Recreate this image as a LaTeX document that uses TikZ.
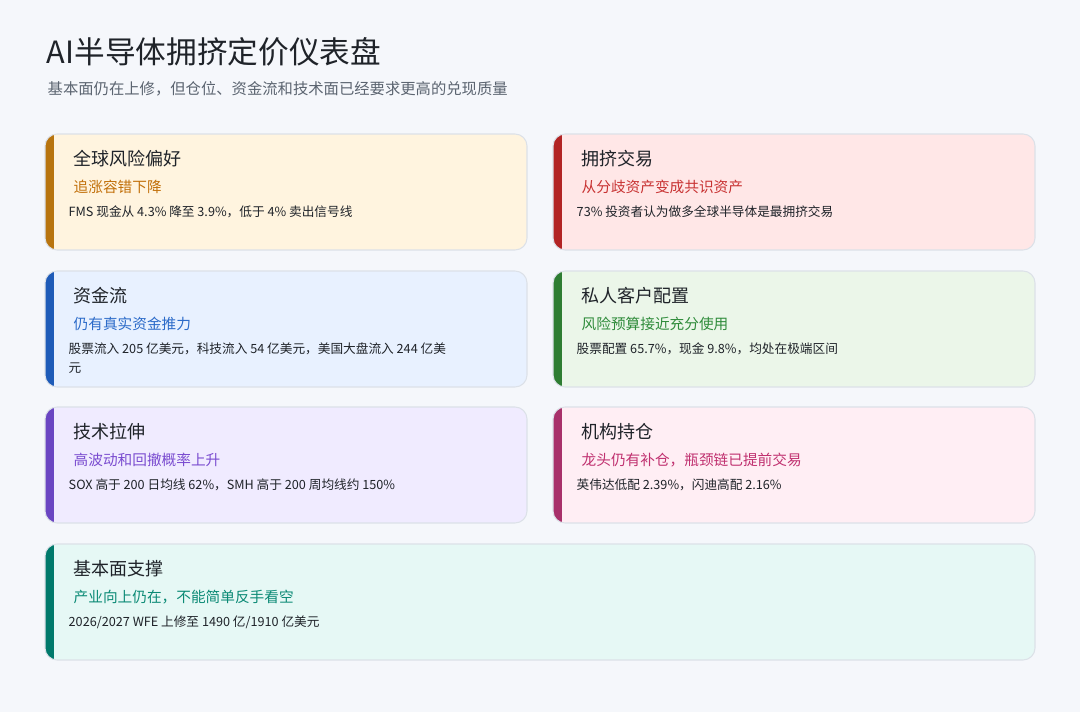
\documentclass[tikz,border=0pt]{standalone}
\usepackage{fontspec}
\setmainfont{Noto Sans CJK SC}
\usetikzlibrary{positioning}
\definecolor{pagebg}{HTML}{F5F7FB}
\definecolor{edge}{HTML}{DCE1E8}
\definecolor{ink}{HTML}{1F2329}
\definecolor{muted}{HTML}{5B6470}
\definecolor{barA}{HTML}{B8740E}\definecolor{fillA}{HTML}{FFF4DF}\definecolor{txtA}{HTML}{C2700A}
\definecolor{barB}{HTML}{B22424}\definecolor{fillB}{HTML}{FFE7E7}\definecolor{txtB}{HTML}{C83232}
\definecolor{barC}{HTML}{1E5BB8}\definecolor{fillC}{HTML}{E8F1FF}\definecolor{txtC}{HTML}{2C6BC9}
\definecolor{barD}{HTML}{2E7D32}\definecolor{fillD}{HTML}{EBF6E9}\definecolor{txtD}{HTML}{2E8B3A}
\definecolor{barE}{HTML}{6A45C2}\definecolor{fillE}{HTML}{F0EBFF}\definecolor{txtE}{HTML}{7A4CD0}
\definecolor{barF}{HTML}{A8306A}\definecolor{fillF}{HTML}{FFEEF4}\definecolor{txtF}{HTML}{C0306F}
\definecolor{barG}{HTML}{00796B}\definecolor{fillG}{HTML}{E6F8F5}\definecolor{txtG}{HTML}{0B8A75}
\tikzset{
  cardtitle/.style={anchor=west,text=ink,font=\fontsize{13.5}{16}\selectfont},
  cardsub/.style={anchor=west,font=\fontsize{11}{13}\selectfont},
  cardbody/.style={anchor=north west,text=ink,align=left,font=\fontsize{9.5}{14}\selectfont}
}
% #1 name, #2 left, #3 top, #4 right, #5 key letter, #6 title, #7 sub, #8 body
\newcommand{\dashcard}[8]{%
  \begin{scope}
    \clip[rounded corners=9] (#2,-#3) rectangle (#4,-#3-116);
    \fill[fill#5] (#2,-#3) rectangle (#4,-#3-116);
    \fill[bar#5] (#2,-#3) rectangle (#2+9,-#3-116);
  \end{scope}
  \draw[edge,line width=0.8pt,rounded corners=9] (#2,-#3) rectangle (#4,-#3-116);
  \node[cardtitle] (#1t) at (#2+24,-#3-25) {#6};
  \node[cardsub,text=txt#5] (#1s) at (#2+24,-#3-53) {#7};
  \node[cardbody] (#1b) at (#2+19,-#3-67) {#8};
}
\begin{document}
\begin{tikzpicture}[x=0.75pt,y=0.75pt]
\fill[pagebg] (0,0) rectangle (1080,-712);
\useasboundingbox (0,0) rectangle (1080,-712);

\node[anchor=west,text=ink,font=\fontsize{23}{27}\selectfont] (title) at (42,-52) {AI半导体拥挤定价仪表盘};
\node[anchor=west,text=muted,font=\fontsize{11.5}{14}\selectfont] (subtitle) at (43,-89) {基本面仍在上修，但仓位、资金流和技术面已经要求更高的兑现质量};

\dashcard{risk}{45}{134}{527}{A}{全球风险偏好}{追涨容错下降}{FMS 现金从 4.3\% 降至 3.9\%，低于 4\% 卖出信号线}
\dashcard{crowd}{553}{134}{1035}{B}{拥挤交易}{从分歧资产变成共识资产}{73\% 投资者认为做多全球半导体是最拥挤交易}
\dashcard{flow}{45}{271}{527}{C}{资金流}{仍有真实资金推力}{股票流入 205 亿美元，科技流入 54 亿美元，美国大盘流入 244 亿美\\元}
\dashcard{client}{553}{271}{1035}{D}{私人客户配置}{风险预算接近充分使用}{股票配置 65.7\%，现金 9.8\%，均处在极端区间}
\dashcard{tech}{45}{407}{527}{E}{技术拉伸}{高波动和回撤概率上升}{SOX 高于 200 日均线 62\%，SMH 高于 200 周均线约 150\%}
\dashcard{inst}{553}{407}{1035}{F}{机构持仓}{龙头仍有补仓，瓶颈链已提前交易}{英伟达低配 2.39\%，闪迪高配 2.16\%}
\dashcard{fund}{45}{544}{1035}{G}{基本面支撑}{产业向上仍在，不能简单反手看空}{2026/2027 WFE 上修至 1490 亿/1910 亿美元}
\end{tikzpicture}
\end{document}
